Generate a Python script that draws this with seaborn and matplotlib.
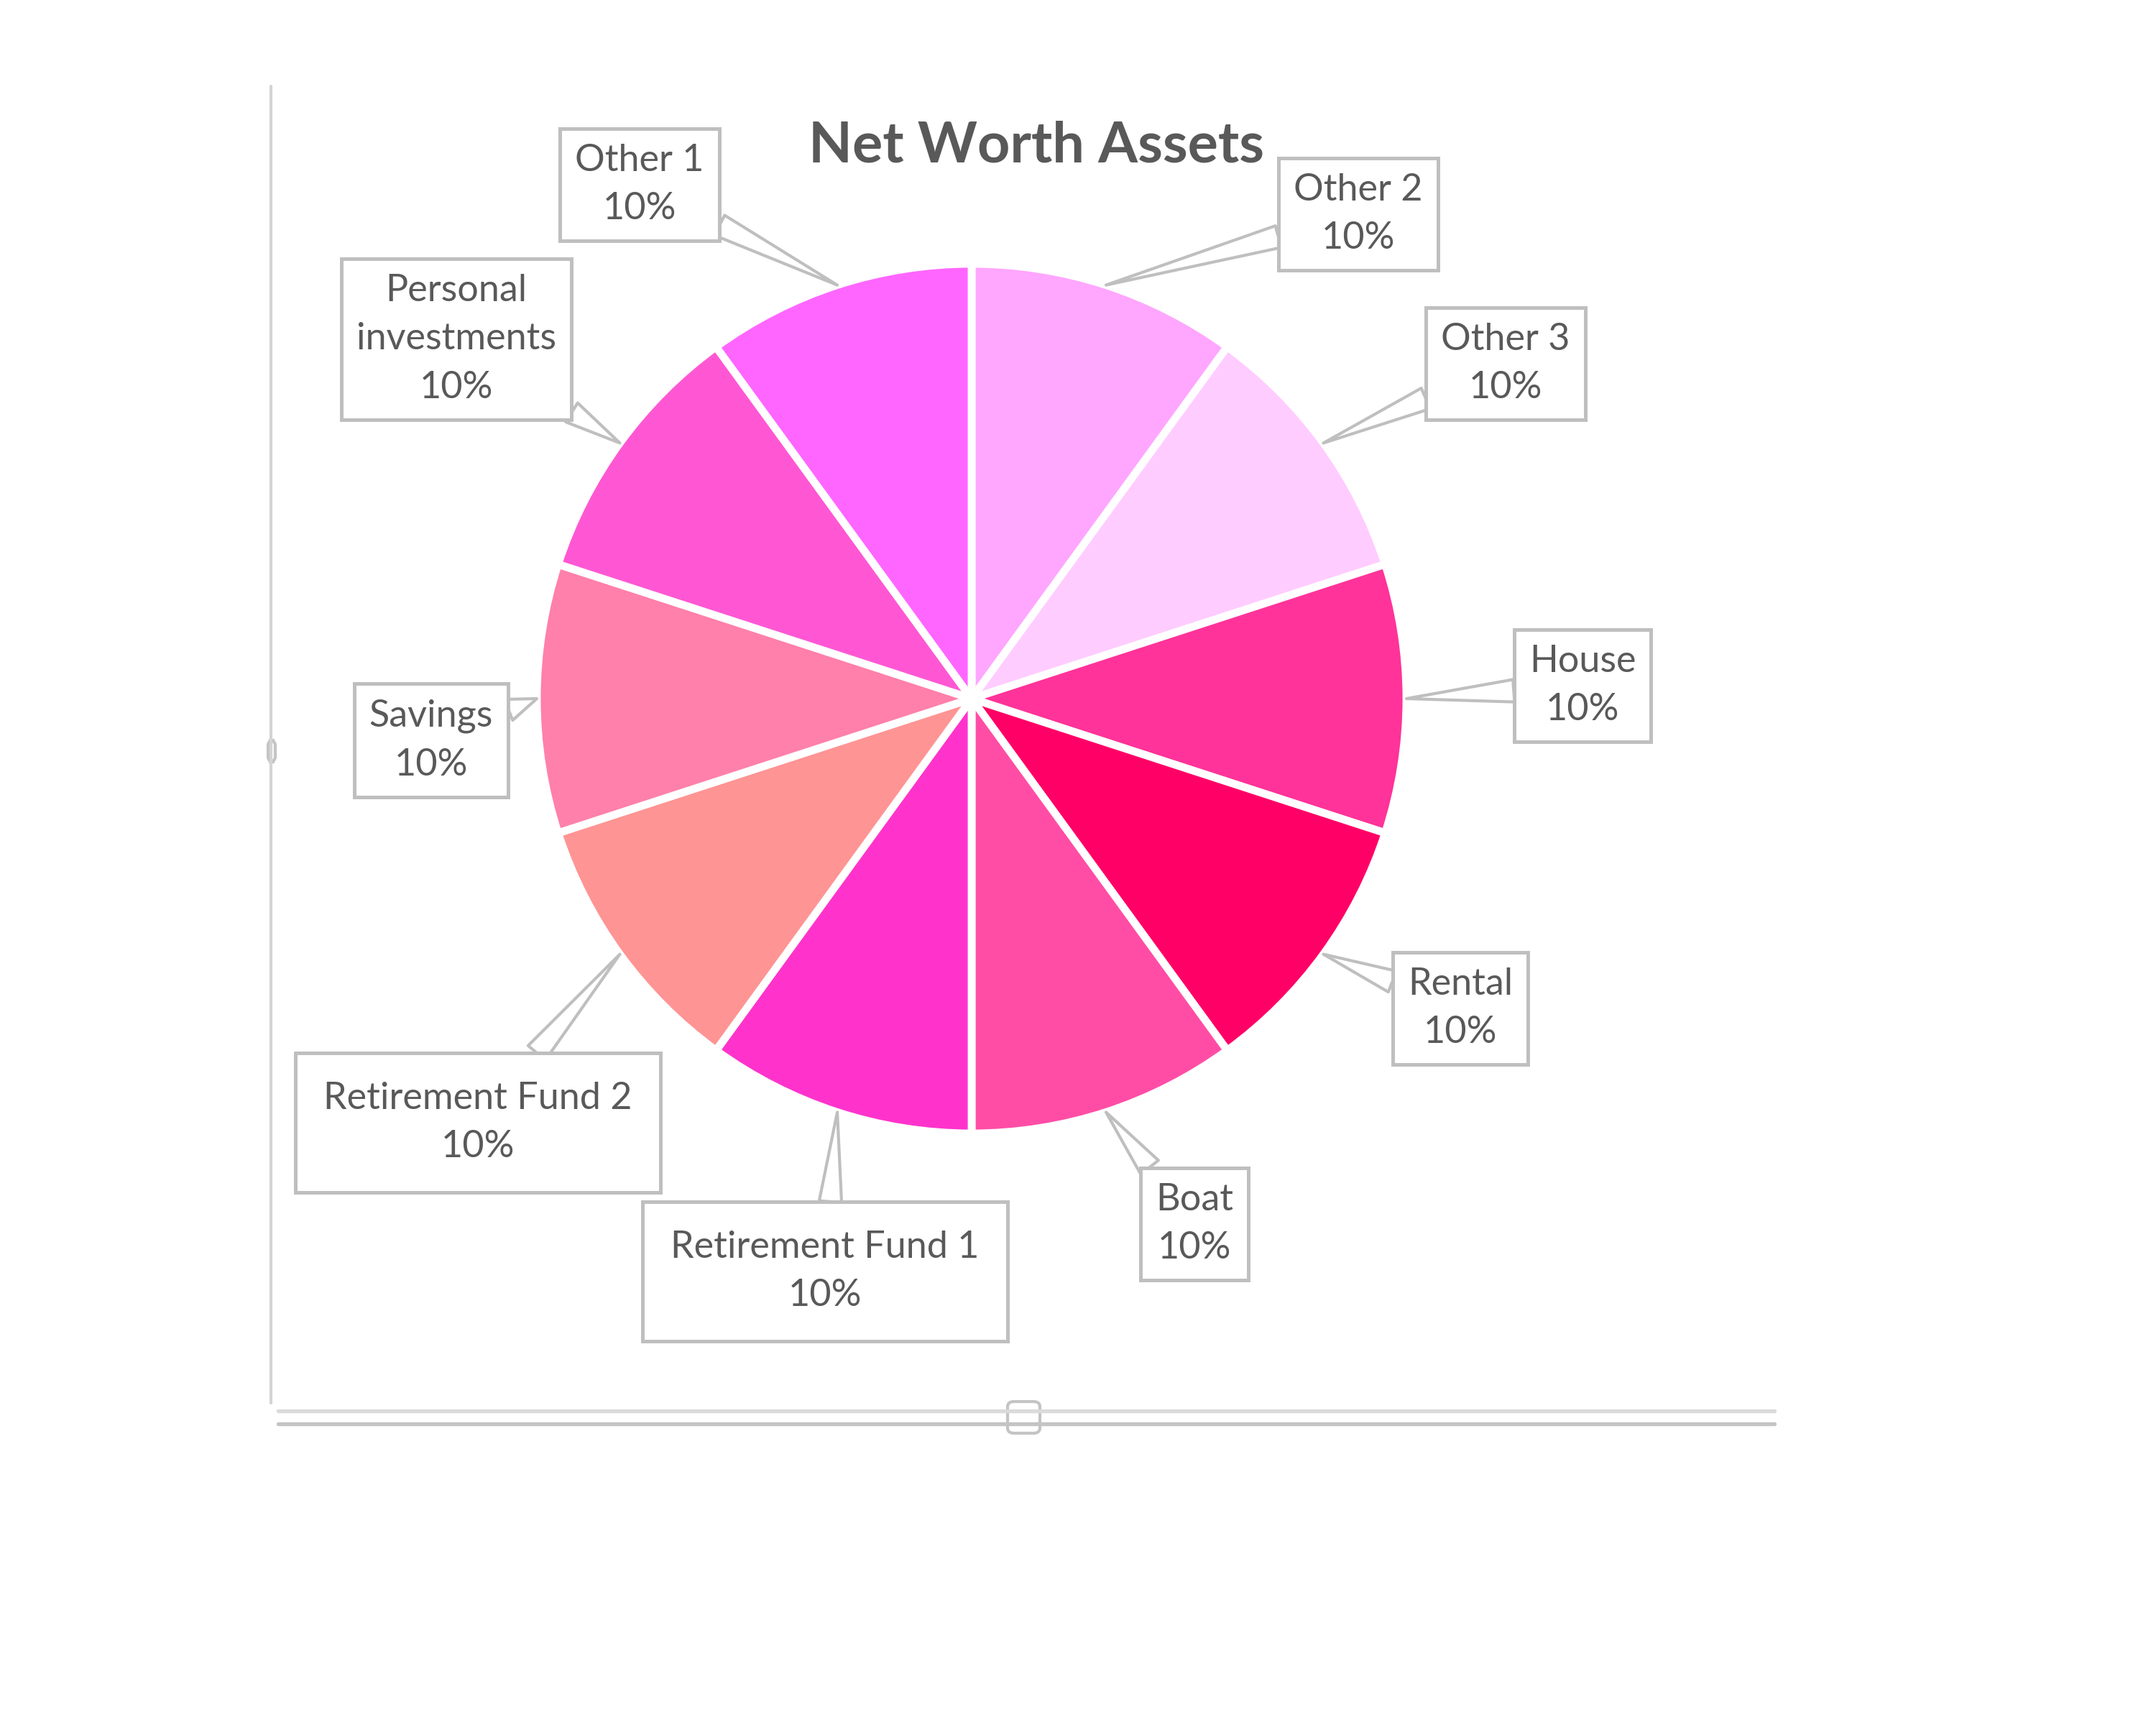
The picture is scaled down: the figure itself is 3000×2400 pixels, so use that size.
import matplotlib
matplotlib.use("Agg")
import matplotlib.pyplot as plt
import seaborn as sns
from matplotlib.lines import Line2D
from matplotlib.patches import FancyBboxPatch
import numpy as np

# data, clockwise from 12 o'clock
assets = ['Other 2', 'Other 3', 'House', 'Rental', 'Boat',
          'Retirement Fund 1', 'Retirement Fund 2', 'Savings',
          'Personal\ninvestments', 'Other 1']
shares = [10, 10, 10, 10, 10, 10, 10, 10, 10, 10]
colors = ['#FFA6FF', '#FFCCFF', '#FF3399', '#FF0066', '#FF4DA6',
          '#FF33CC', '#FF9494', '#FF80AA', '#FF57D4', '#FF66FF']

# label box centres in reference pixels (3000x2400 canvas)
box_px = [(1890, 298), (2095, 506), (2202, 954), (2032, 1403), (1662, 1703),
          (1148, 1769), (665, 1562), (600, 1030), (635, 472), (890, 257)]
box_pad = [0.4, 0.4, 0.4, 0.4, 0.4, 0.75, 0.75, 0.4, 0.4, 0.4]

W, H = 3000, 2400
CX, CY, R = 1352, 972, 605


def px(x, y):
    return (x - CX) / R, (CY - y) / R


sns.set_theme(style="white")
plt.rcParams['font.family'] = ['Lato', 'DejaVu Sans']

fig = plt.figure(figsize=(10, 8), dpi=300)
ax = fig.add_axes([0, 0, 1, 1])

pal = sns.color_palette(colors)
wedges, _ = ax.pie(shares, colors=pal, startangle=90, counterclock=False,
                   radius=1, wedgeprops=dict(edgecolor='white', linewidth=2.6))

# pie() resets the limits, so set them afterwards
ax.set_xlim(-CX / R, (W - CX) / R)
ax.set_ylim((CY - H) / R, CY / R)
ax.set_aspect('equal')
ax.axis('off')

total = sum(shares)
for w, name, v, (bx, by), pad in zip(wedges, assets, shares, box_px, box_pad):
    mid = np.deg2rad((w.theta1 + w.theta2) / 2)
    tip = (np.cos(mid), np.sin(mid))
    ax.annotate(f"{name}\n{v / total * 100:.0f}%", xy=tip, xytext=px(bx, by),
                ha='center', va='center', fontsize=12.5, color='#595959',
                linespacing=1.55,
                bbox=dict(boxstyle=f"square,pad={pad}", fc='white',
                          ec='#BFBFBF', lw=1.2),
                arrowprops=dict(arrowstyle="wedge,tail_width=0.6",
                                fc='white', ec='#BFBFBF', lw=1.0,
                                shrinkA=0, shrinkB=0))

ax.text(*px(1442, 203), "Net Worth Assets", ha='center', va='center',
        fontsize=19, fontweight='bold', color='#595959')

# partial chart-area frame seen in the screenshot
def fline(x0, y0, x1, y1, c, lw):
    fig.add_artist(Line2D([x0 / W, x1 / W], [1 - y0 / H, 1 - y1 / H],
                          color=c, lw=lw, transform=fig.transFigure))

fline(377, 120, 377, 1952, '#D4D4D4', 1.0)
fline(387, 1963, 2469, 1963, '#DADADA', 1.3)
fline(387, 1981, 2469, 1981, '#C4C4C4', 1.3)
for (hx, hy, hw, hh) in [(1402, 1950, 45, 44), (373, 1030, 10, 30)]:
    fig.add_artist(FancyBboxPatch((hx / W, 1 - (hy + hh) / H), hw / W, hh / H,
                                  boxstyle="round,pad=0,rounding_size=0.003",
                                  fc='white', ec='#C4C4C4', lw=1.0,
                                  transform=fig.transFigure))

fig.savefig("out.png", dpi=300, facecolor='white')
